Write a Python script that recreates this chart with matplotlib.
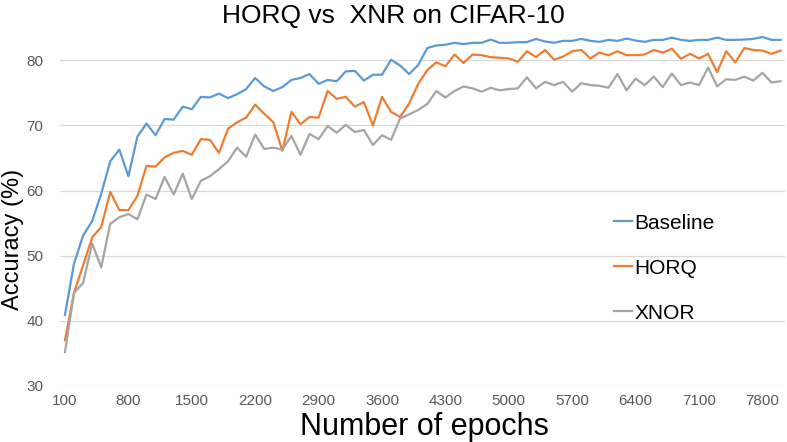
import numpy as np
import matplotlib
matplotlib.use("Agg")
import matplotlib.pyplot as plt

plt.rcParams['font.family'] = ['Liberation Sans', 'DejaVu Sans']

# epochs 100..8000, one reading every 100 epochs
epochs = list(range(100, 8100, 100))

baseline = [40.9, 48.8, 53.1, 55.3, 59.5, 64.5, 66.3, 62.2, 68.3, 70.3,
            68.5, 71.0, 70.9, 72.9, 72.5, 74.4, 74.3, 74.9, 74.2, 74.8,
            75.6, 77.3, 76.0, 75.3, 75.9, 77.0, 77.3, 77.9, 76.4, 77.0,
            76.8, 78.3, 78.4, 76.9, 77.8, 77.8, 80.1, 79.2, 77.9, 79.3,
            81.9, 82.3, 82.4, 82.7, 82.5, 82.7, 82.7, 83.2, 82.7, 82.7,
            82.8, 82.8, 83.3, 82.9, 82.7, 83.0, 83.0, 83.3, 83.0, 82.85,
            83.15, 83.0, 83.35, 83.05, 82.85, 83.15, 83.15, 83.5, 83.15, 83.0,
            83.15, 83.15, 83.5, 83.15, 83.15, 83.2, 83.3, 83.6, 83.15, 83.15]

horq = [37.0, 44.3, 48.5, 52.8, 54.4, 59.8, 57.0, 57.0, 59.2, 63.8,
        63.7, 65.1, 65.8, 66.1, 65.5, 67.9, 67.8, 65.8, 69.5, 70.5,
        71.2, 73.2, 71.8, 70.5, 66.1, 72.1, 70.2, 71.3, 71.2, 75.3,
        74.1, 74.4, 72.9, 73.6, 70.0, 74.4, 72.1, 71.3, 73.4, 76.4,
        78.5, 79.7, 79.1, 80.9, 79.6, 80.9, 80.8, 80.5, 80.4, 80.3,
        79.8, 81.4, 80.5, 81.6, 80.1, 80.6, 81.4, 81.6, 80.3, 81.2,
        80.8, 81.4, 80.8, 80.8, 80.9, 81.6, 81.2, 81.8, 80.25, 81.0,
        80.3, 81.0, 78.2, 81.4, 79.7, 81.9, 81.6, 81.5, 81.0, 81.5]

xnor = [35.2, 44.3, 45.8, 51.9, 48.2, 54.9, 55.9, 56.4, 55.6, 59.4,
        58.7, 62.1, 59.4, 62.6, 58.7, 61.5, 62.2, 63.3, 64.5, 66.6,
        65.2, 68.6, 66.4, 66.6, 66.3, 68.4, 65.5, 68.7, 67.9, 69.9,
        68.9, 70.1, 69.0, 69.3, 67.0, 68.5, 67.8, 71.1, 71.7, 72.4,
        73.3, 75.3, 74.3, 75.3, 76.0, 75.7, 75.2, 75.8, 75.4, 75.6,
        75.7, 77.4, 75.7, 76.7, 76.2, 76.7, 75.2, 76.5, 76.2, 76.1,
        75.8, 77.9, 75.4, 77.2, 76.2, 77.5, 75.9, 78.0, 76.2, 76.6,
        76.2, 78.9, 76.0, 77.1, 77.0, 77.5, 76.9, 78.1, 76.6, 76.8]

tick_epochs = list(range(100, 8000, 700))
y_ticks = [30, 40, 50, 60, 70, 80]

fig = plt.figure(figsize=(7.87, 4.42), dpi=100)
ax = fig.add_axes([0.076, 0.127, 0.921, 0.81])

ax.plot(epochs, baseline, color='#5B9BD5', lw=1.6, label='Baseline')
ax.plot(epochs, horq, color='#ED7D31', lw=1.6, label='HORQ')
ax.plot(epochs, xnor, color='#A5A5A5', lw=1.6, label='XNOR')

ax.set_xlim(43, 8045)
ax.set_ylim(30, 85)
ax.set_yticks(y_ticks)
ax.set_xticks(tick_epochs)
ax.grid(axis='y', color='#D9D9D9', lw=0.9)
ax.set_axisbelow(True)
for s in ax.spines.values():
    s.set_visible(False)
ax.tick_params(length=0, labelsize=11, colors='#595959', pad=6)
ax.tick_params(axis='y', pad=12)

ax.set_xlabel('Number of epochs', fontsize=22)
ax.xaxis.set_label_coords(0.503, -0.072)
ax.set_ylabel('Accuracy (%)', fontsize=17)
ax.yaxis.set_label_coords(-0.05, 0.41)
fig.suptitle('HORQ vs  XNR on CIFAR-10', fontsize=19, y=0.99)

ax.legend(loc='center left', bbox_to_anchor=(0.764, 0.329), frameon=False,
          fontsize=15, handlelength=0.9, handletextpad=0.1, labelspacing=1.25,
          borderpad=0, borderaxespad=0)

fig.savefig('out.png', dpi=100)
